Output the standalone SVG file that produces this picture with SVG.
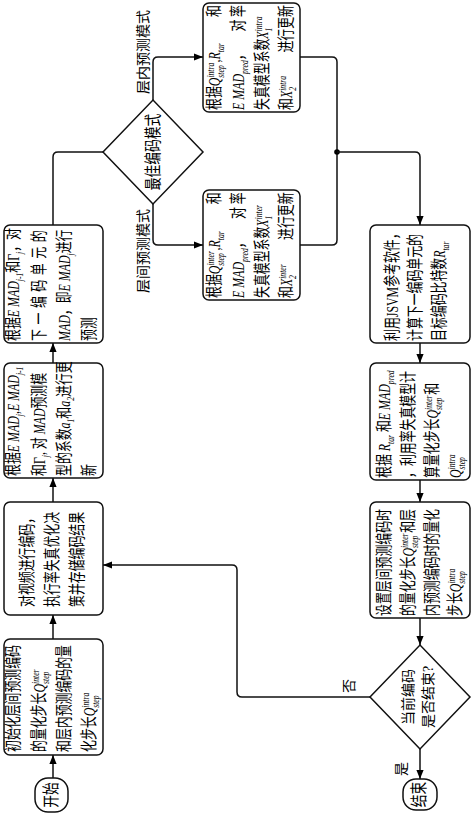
<svg xmlns="http://www.w3.org/2000/svg" width="474" height="814" viewBox="0 0 474 814">
<style>
.box{fill:#fff;stroke:#111;stroke-width:1.5}
.ln{fill:none;stroke:#111;stroke-width:1.5}
.t{font-family:"Liberation Serif","Noto Sans CJK SC",serif;font-size:17px;fill:#000}
.m{font-style:italic}
.s{font-size:11px;font-style:italic}
.lb{font-family:"Liberation Serif","Noto Sans CJK SC",serif;font-size:14px;fill:#000}
</style>
<defs>
<marker id="ah" viewBox="0 0 10 10" refX="10" refY="5" markerWidth="9" markerHeight="9" markerUnits="userSpaceOnUse" orient="auto"><path d="M0,1 L10,5 L0,9 z" fill="#000"/></marker>
</defs>
<rect width="474" height="814" fill="#fff"/>
<g transform="matrix(0,-1,1,0,0,814)">
<g id="connectors">
<path class="ln" d="M36,53 H59" marker-end="url(#ah)"/>
<path class="ln" d="M175,53 H199" marker-end="url(#ah)"/>
<path class="ln" d="M312,53 H336" marker-end="url(#ah)"/>
<path class="ln" d="M451,53 H471" marker-end="url(#ah)"/>
<path class="ln" d="M589,53 H657 Q662,53 662,58 V103"/>
<path class="ln" d="M714,153 H752 Q757,153 757,158 V203" marker-end="url(#ah)"/>
<path class="ln" d="M610,153 H574 Q569,153 569,158 V203" marker-end="url(#ah)"/>
<path class="ln" d="M757,300 V332 Q757,337 752,337 H662"/>
<path class="ln" d="M569,300 V332 Q569,337 574,337 H662"/>
<circle cx="662" cy="337" r="2.8" fill="#000"/>
<path class="ln" d="M662,337 V415 Q662,420 657,420 H589" marker-end="url(#ah)"/>
<path class="ln" d="M471,420 H451" marker-end="url(#ah)"/>
<path class="ln" d="M334,420 H312" marker-end="url(#ah)"/>
<path class="ln" d="M196,420 H169" marker-end="url(#ah)"/>
<path class="ln" d="M117,370 V242 Q117,237 122,237 H244 Q249,237 249,232 V103" marker-end="url(#ah)"/>
<path class="ln" d="M65,420 H35" marker-end="url(#ah)"/>
<text class="lb" x="720" y="148">层内预测模式</text>
<text class="lb" x="521" y="148">层间预测模式</text>
<text class="lb" x="121" y="354" font-size="13">否</text>
<text class="lb" x="45" y="406" font-size="13" text-anchor="middle">是</text>
</g>
<g id="start">
<rect class="box" x="2" y="35" width="34" height="33" rx="13"/>
<text class="t" transform="matrix(0.75,0,0,1,19,0)" x="0" y="57" font-size="15" text-anchor="middle">开始</text>
</g>
<g id="init">
<rect class="box" x="59" y="4" width="116" height="99" rx="6"/>
<text class="t" transform="matrix(0.7,0,0,1,62,0)" x="0" y="19">初始化层间预测编码</text>
<text class="t" transform="matrix(0.7,0,0,1,62,0)" x="0" y="45">的量化步长<tspan class="m">Q</tspan><tspan class="s" dy="-6">inter</tspan><tspan class="s" dx="-20.8" dy="10">step</tspan></text>
<text class="t" transform="matrix(0.7,0,0,1,62,0)" x="0" y="70">和层内预测编码的量</text>
<text class="t" transform="matrix(0.7,0,0,1,62,0)" x="0" y="95">化步长<tspan class="m">Q</tspan><tspan class="s" dy="-6">intra</tspan><tspan class="s" dx="-21.4" dy="10">step</tspan></text>
</g>
<g id="encode">
<rect class="box" x="199" y="4" width="113" height="99" rx="6"/>
<text class="t" transform="matrix(0.7,0,0,1,207,0)" x="0" y="33">对视频进行编码，</text>
<text class="t" transform="matrix(0.7,0,0,1,207,0)" x="0" y="58">执行率失真优化决</text>
<text class="t" transform="matrix(0.7,0,0,1,207,0)" x="0" y="83">策并存储编码结果</text>
</g>
<g id="update-coef">
<rect class="box" x="336" y="4" width="115" height="99" rx="6"/>
<text class="t" transform="matrix(0.7,0,0,1,338,0)" x="0" y="19">根据<tspan class="m">E MAD</tspan><tspan class="s" dy="4">j</tspan><tspan dy="-4">,</tspan><tspan class="m">E MAD</tspan><tspan class="s" dy="4">j-1</tspan></text>
<text class="t" transform="matrix(0.7,0,0,1,338,0)" x="0" y="45">和Γ<tspan class="s" dy="4">j</tspan><tspan dy="-4">, 对 </tspan><tspan class="m">MAD</tspan>预测模</text>
<text class="t" transform="matrix(0.7,0,0,1,338,0)" x="0" y="70">型的系数<tspan class="m">a</tspan><tspan class="s" dy="4">1</tspan><tspan dy="-4">和</tspan><tspan class="m">a</tspan><tspan class="s" dy="4">2</tspan><tspan dy="-4">进行更</tspan></text>
<text class="t" transform="matrix(0.7,0,0,1,338,0)" x="0" y="95">新</text>
</g>
<g id="predict-mad">
<rect class="box" x="471" y="4" width="118" height="99" rx="6"/>
<text class="t" transform="matrix(0.7,0,0,1,473,0)" x="0" y="19">根据<tspan class="m">E MAD</tspan><tspan class="s" dy="4">j-1</tspan><tspan dy="-4">和Γ</tspan><tspan class="s" dy="4">j</tspan><tspan dy="-4">，对</tspan></text>
<text class="t" transform="matrix(0.7,0,0,1,473,0)" x="0" y="45" textLength="158" lengthAdjust="spacing">下一编码单元的</text>
<text class="t" transform="matrix(0.7,0,0,1,473,0)" x="0" y="70"><tspan class="m">MAD</tspan>，即<tspan class="m">E MAD</tspan><tspan class="s" dy="4">j</tspan><tspan dy="-4">进行</tspan></text>
<text class="t" transform="matrix(0.7,0,0,1,473,0)" x="0" y="95">预测</text>
</g>
<g id="mode-decision">
<polygon class="box" points="610,153 662,103 714,153 662,203"/>
<text class="t" transform="matrix(0.75,0,0,1,662,0)" x="0" y="159" font-size="15" text-anchor="middle">最佳编码模式</text>
</g>
<g id="intra-update">
<rect class="box" x="702" y="203" width="109" height="97" rx="6"/>
<text class="t" transform="matrix(0.7,0,0,1,704,0)" x="0" y="220">根据<tspan class="m">Q</tspan><tspan class="s" dy="-6">intra</tspan><tspan class="s" dx="-21.4" dy="10">step</tspan><tspan dx="4" dy="-4">,</tspan><tspan class="m">R</tspan><tspan class="s" dy="4">tar</tspan><tspan dy="-4" x="133">和</tspan></text>
<text class="t" transform="matrix(0.7,0,0,1,704,0)" x="0" y="244"><tspan class="m">E MAD</tspan><tspan class="s" dy="4">pred</tspan><tspan dy="-4">，</tspan><tspan x="112">对</tspan><tspan x="133">率</tspan></text>
<text class="t" transform="matrix(0.7,0,0,1,704,0)" x="0" y="268">失真模型系数<tspan class="m">X</tspan><tspan class="s" dy="-6">intra</tspan><tspan class="s" dx="-21.4" dy="10">1</tspan></text>
<text class="t" transform="matrix(0.7,0,0,1,704,0)" x="0" y="292">和<tspan class="m">X</tspan><tspan class="s" dy="-6">intra</tspan><tspan class="s" dx="-21.4" dy="10">2</tspan><tspan dy="-4" x="82">进行更新</tspan></text>
</g>
<g id="inter-update">
<rect class="box" x="514" y="203" width="110" height="97" rx="6"/>
<text class="t" transform="matrix(0.7,0,0,1,516,0)" x="0" y="220">根据<tspan class="m">Q</tspan><tspan class="s" dy="-6">inter</tspan><tspan class="s" dx="-20.8" dy="10">step</tspan><tspan dx="4" dy="-4">,</tspan><tspan class="m">R</tspan><tspan class="s" dy="4">tar</tspan><tspan dy="-4" x="134">和</tspan></text>
<text class="t" transform="matrix(0.7,0,0,1,516,0)" x="0" y="244"><tspan class="m">E MAD</tspan><tspan class="s" dy="4">pred</tspan><tspan dy="-4">，</tspan><tspan x="113">对</tspan><tspan x="134">率</tspan></text>
<text class="t" transform="matrix(0.7,0,0,1,516,0)" x="0" y="268">失真模型系数<tspan class="m">X</tspan><tspan class="s" dy="-6">inter</tspan><tspan class="s" dx="-20.8" dy="10">1</tspan></text>
<text class="t" transform="matrix(0.7,0,0,1,516,0)" x="0" y="292">和<tspan class="m">X</tspan><tspan class="s" dy="-6">inter</tspan><tspan class="s" dx="-20.8" dy="10">2</tspan><tspan dy="-4" x="83">进行更新</tspan></text>
</g>
<g id="target-bits">
<rect class="box" x="471" y="370" width="118" height="100" rx="6"/>
<text class="t" transform="matrix(0.7,0,0,1,473,0)" x="0" y="398">利用JSVM参考软件，</text>
<text class="t" transform="matrix(0.7,0,0,1,473,0)" x="0" y="421">计算下一编码单元的</text>
<text class="t" transform="matrix(0.7,0,0,1,473,0)" x="0" y="445">目标编码比特数<tspan class="m">R</tspan><tspan class="s" dy="4">tar</tspan></text>
</g>
<g id="calc-qstep">
<rect class="box" x="334" y="370" width="117" height="100" rx="6"/>
<text class="t" transform="matrix(0.7,0,0,1,336,0)" x="0" y="390">根据 <tspan class="m">R</tspan><tspan class="s" dy="4">tar</tspan><tspan dy="-4"> 和</tspan><tspan class="m">E MAD</tspan><tspan class="s" dy="4">pred</tspan></text>
<text class="t" transform="matrix(0.7,0,0,1,336,0)" x="0" y="414">，利用率失真模型计</text>
<text class="t" transform="matrix(0.7,0,0,1,336,0)" x="0" y="438">算量化步长<tspan class="m">Q</tspan><tspan class="s" dy="-6">inter</tspan><tspan class="s" dx="-20.8" dy="10">step</tspan><tspan dx="4" dy="-4">和</tspan></text>
<text class="t" transform="matrix(0.7,0,0,1,336,0)" x="0" y="461"><tspan class="m">Q</tspan><tspan class="s" dy="-6">intra</tspan><tspan class="s" dx="-21.4" dy="10">step</tspan></text>
</g>
<g id="set-qstep">
<rect class="box" x="196" y="370" width="116" height="100" rx="6"/>
<text class="t" transform="matrix(0.7,0,0,1,198,0)" x="0" y="390">设置层间预测编码时</text>
<text class="t" transform="matrix(0.7,0,0,1,198,0)" x="0" y="414">的量化步长<tspan class="m">Q</tspan><tspan class="s" dy="-6">inter</tspan><tspan class="s" dx="-20.8" dy="10">step</tspan><tspan dx="4" dy="-4">和层</tspan></text>
<text class="t" transform="matrix(0.7,0,0,1,198,0)" x="0" y="438">内预测编码时的量化</text>
<text class="t" transform="matrix(0.7,0,0,1,198,0)" x="0" y="461">步长<tspan class="m">Q</tspan><tspan class="s" dy="-6">intra</tspan><tspan class="s" dx="-21.4" dy="10">step</tspan></text>
</g>
<g id="end-check">
<polygon class="box" points="65,420 117,370 169,420 117,470"/>
<text class="lb" x="117" y="413" font-size="13" text-anchor="middle">当前编码</text>
<text class="lb" x="117" y="433" font-size="13" text-anchor="middle">是否结束?</text>
</g>
<g id="end">
<rect class="box" x="4" y="403" width="31" height="34" rx="13"/>
<text class="t" transform="matrix(0.75,0,0,1,19.5,0)" x="0" y="425" font-size="15" text-anchor="middle">结束</text>
</g>
</g>
</svg>
